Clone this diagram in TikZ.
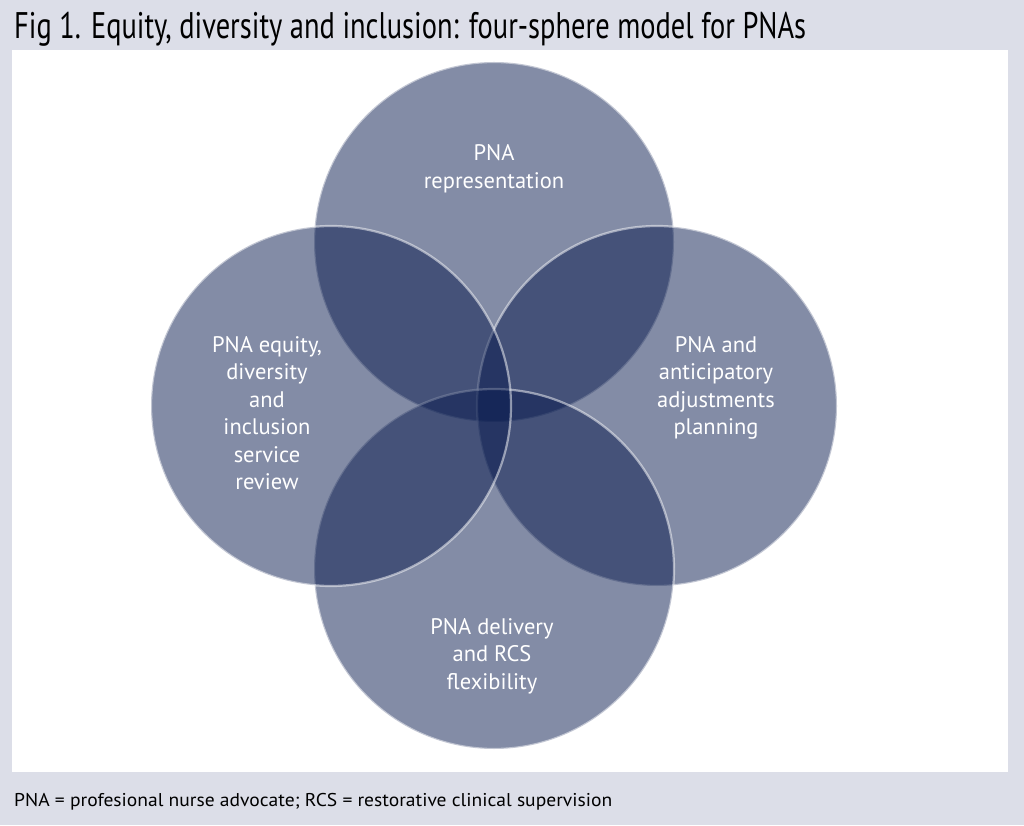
\documentclass[tikz,border=0pt]{standalone}
\usepackage{fontspec}
\setmainfont{PT Sans}
\usepackage{graphicx}
\definecolor{bgc}{RGB}{220,222,232}
\definecolor{circ}{RGB}{8,26,78}
\tikzset{
  sphere/.style={fill=circ, fill opacity=0.5, draw=white, draw opacity=0.5, line width=2.2pt},
  label/.style={text=white, align=center, font=\fontsize{22.5}{27.5}\selectfont, inner sep=0pt},
}
\begin{document}
\begin{tikzpicture}[x=1pt,y=1pt]
\fill[bgc] (0,0) rectangle (1024,825);
\useasboundingbox (0,0) rectangle (1024,825);
\fill[white] (12,53) rectangle (1008,775);
\node[anchor=base west, inner sep=0pt] (title) at (14,786)
  {\resizebox{792pt}{\height}{\fontsize{37}{40}\selectfont Fig 1. Equity, diversity and inclusion: four-sphere model for PNAs}};
\node[anchor=base west, inner sep=0pt] (foot) at (14,19)
  {\resizebox{598pt}{\height}{\fontsize{18.5}{20}\selectfont PNA = profesional nurse advocate; RCS = restorative clinical supervision}};
% spheres: order top, right, bottom, left
\path[sphere] (494,583) circle[radius=180];
\path[sphere] (657,419) circle[radius=180];
\path[sphere] (494,256) circle[radius=180];
\path[sphere] (331,419) circle[radius=180];
\node[label] (ltop) at (494,656) {PNA\\representation};
\node[label] (lleft) at (267,412) {PNA equity,\\diversity\\and\\inclusion\\service\\review};
\node[label] (lright) at (716,437) {PNA and\\anticipatory\\adjustments\\planning};
\node[label] (lbottom) at (492,169) {PNA delivery\\and RCS\\flexibility};
\end{tikzpicture}
\end{document}
